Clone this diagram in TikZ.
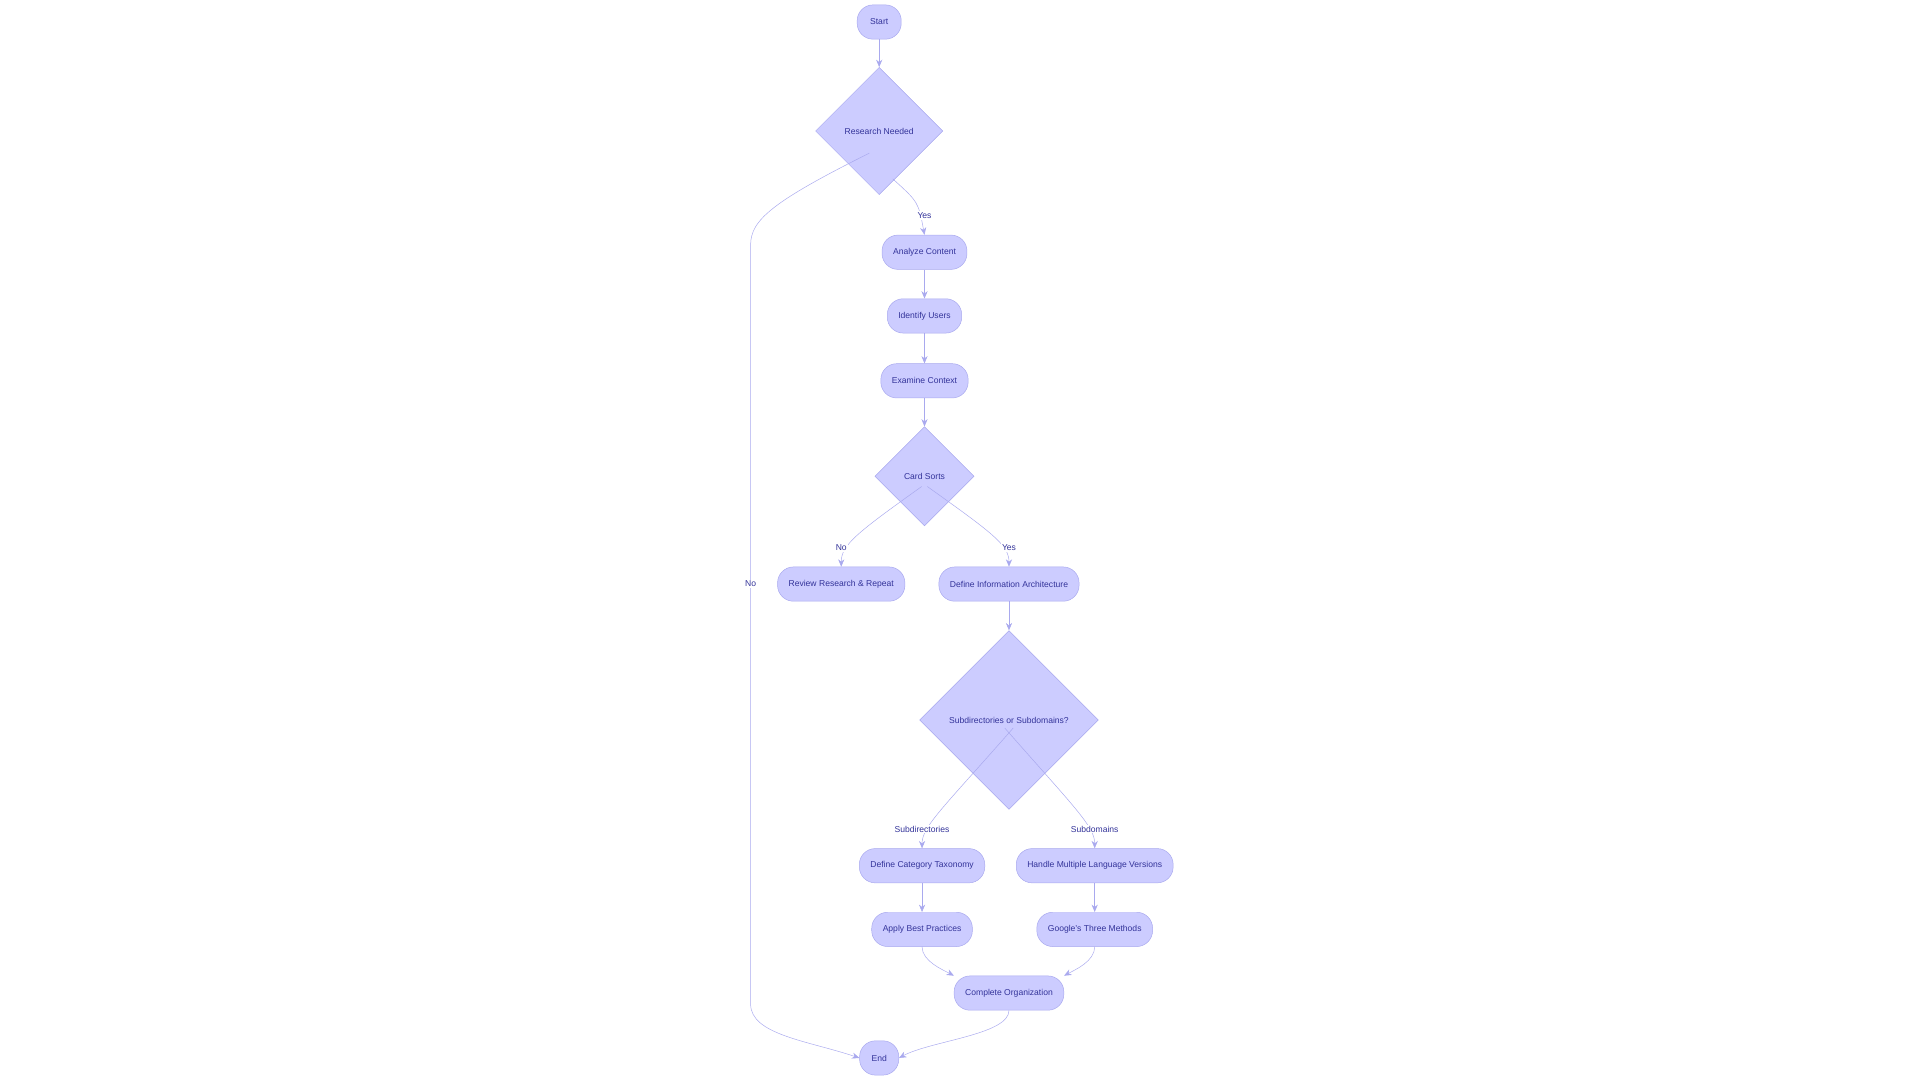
\documentclass[tikz,border=0pt]{standalone}
\usepackage{fontspec}
\setmainfont{Liberation Sans}
\usetikzlibrary{shapes.geometric,arrows.meta,positioning}
\definecolor{boxfill}{HTML}{CCCCFF}
\definecolor{boxline}{HTML}{A9A9EE}
\definecolor{boxtext}{HTML}{33339A}
\tikzset{
  stadium/.style={draw=boxline, fill=boxfill, rounded corners=13pt, minimum height=28pt, inner xsep=9pt, text=boxtext, font=\fontsize{7}{8}\selectfont},
  decide/.style={draw=boxline, fill=boxfill, diamond, inner sep=0pt, text=boxtext, font=\fontsize{7}{8}\selectfont},
  flow/.style={draw=boxline, -{Stealth[length=6pt,width=5pt]}},
  tag/.style={text=boxtext, font=\fontsize{7}{8}\selectfont, inner sep=1pt}
}
\begin{document}
\begin{tikzpicture}[x=1pt,y=-1pt]
\useasboundingbox (0,0) rectangle (1568,882);

\node[stadium, minimum width=36pt] (start) at (718,18) {Start};
\node[decide, minimum size=104pt] (research) at (718,107) {Research Needed};
\node[stadium] (analyze) at (755,206) {Analyze Content};
\node[stadium] (users) at (755,258) {Identify Users};
\node[stadium] (context) at (755,311) {Examine Context};
\node[decide, minimum size=81pt] (cards) at (755,389) {Card Sorts};
\node[stadium] (review) at (687,477) {Review Research \& Repeat};
\node[stadium] (infoarch) at (824,477) {Define Information Architecture};
\node[decide, minimum size=146pt] (subdir) at (824,588) {Subdirectories or Subdomains?};
\node[stadium] (taxonomy) at (753,707) {Define Category Taxonomy};
\node[stadium] (language) at (894,707) {Handle Multiple Language Versions};
\node[stadium] (practices) at (753,759) {Apply Best Practices};
\node[stadium] (google) at (894,759) {Google's Three Methods};
\node[stadium] (complete) at (824,811) {Complete Organization};
\node[stadium, minimum width=32pt] (finish) at (718,864) {End};

% straight runs
\draw[flow] (start) -- (research);
\draw[flow] (analyze) -- (users);
\draw[flow] (users) -- (context);
\draw[flow] (context) -- (cards);
\draw[flow] (infoarch) -- (subdir);
\draw[flow] (taxonomy) -- (practices);
\draw[flow] (language) -- (google);

% branches
\draw[flow] (research.south east) ++(-15,13) coordinate (ryes) .. controls (750,165) .. (analyze.north);
\node[tag, fill=white] (yes1) at (755,176) {Yes};
\draw[flow] (research.south west) ++(18,-8) coordinate (rno) .. controls (630,165) and (613,180) .. (613,200) -- (613,820) .. controls (613,845) and (660,850) .. (finish.west);
\node[tag, fill=white] (no1) at (613,477) {No};
\draw[flow] (cards.south west) ++(18,-12) .. controls (700,435) and (687,445) .. (review.north);
\node[tag, fill=white] (no2) at (687,447) {No};
\draw[flow] (cards.south east) ++(-18,-12) .. controls (810,435) and (824,445) .. (infoarch.north);
\node[tag, fill=white] (yes2) at (824,447) {Yes};
\draw[flow] (subdir.south west) ++(40,-30) .. controls (770,660) and (753,675) .. (taxonomy.north);
\node[tag, fill=white] (lsub) at (753,677) {Subdirectories};
\draw[flow] (subdir.south east) ++(-40,-30) .. controls (878,660) and (894,675) .. (language.north);
\node[tag, fill=white] (ldom) at (894,677) {Subdomains};

% merges
\draw[flow] (practices.south) .. controls (753,785) and (770,792) .. (complete.north west);
\draw[flow] (google.south) .. controls (894,785) and (878,792) .. (complete.north east);
\draw[flow] (complete.south) .. controls (824,845) and (760,850) .. (finish.east);
\end{tikzpicture}
\end{document}
